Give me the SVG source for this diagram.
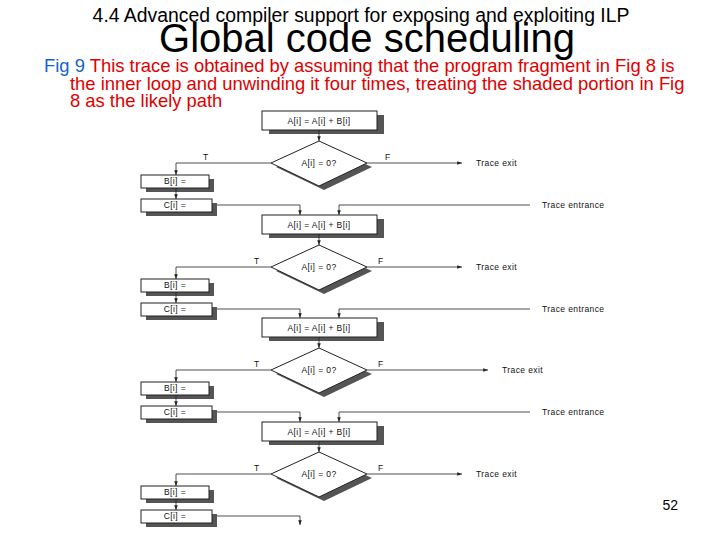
<svg xmlns="http://www.w3.org/2000/svg" width="720" height="540" viewBox="0 0 720 540">
<style>
.t{font-family:"Liberation Sans",Arial,sans-serif}
.box{fill:#fff;stroke:#222;stroke-width:1}
.sh{fill:#555}
.ln{fill:none;stroke:#222;stroke-width:0.8}
.s{font-family:"Liberation Sans",Arial,sans-serif;font-size:8.5px;fill:#111;letter-spacing:0.4px}
</style>
<defs>
<marker id="ar" viewBox="0 0 8 8" refX="8" refY="4" markerWidth="6" markerHeight="6" orient="auto"><path d="M0,1 L8,4 L0,7z" fill="#222"/></marker>
</defs>
<rect width="720" height="540" fill="#fff"/>
<text class="t" x="361" y="22" font-size="19.4" text-anchor="middle">4.4 Advanced compiler support for exposing and exploiting ILP</text>
<text class="t" x="367" y="52" font-size="40" text-anchor="middle">Global code scheduling</text>
<text class="t" font-size="18.4" fill="#e00000"><tspan x="44" y="72"><tspan fill="#1a5fd0">Fig 9</tspan> This trace is obtained by assuming that the program fragment in Fig 8 is</tspan><tspan x="70" y="90">the inner loop and unwinding it four times, treating the shaded portion in Fig</tspan><tspan x="70" y="107">8 as the likely path</tspan></text>
<text class="t" x="678" y="510" font-size="14" text-anchor="end">52</text>

<g id="nodes">
<g id="b1" transform="translate(0,0)">
<g id="a1"><rect class="sh" x="269" y="115" width="115" height="19"/><rect class="box" x="262" y="111" width="115" height="19"/><text class="s" x="319" y="124" text-anchor="middle">A[i] = A[i] + B[i]</text></g>
<g id="d1"><polygon class="sh" points="276,167 324,145 372,167 324,190"/><polygon class="box" points="271,163 319,141 367,163 319,186"/><text class="s" x="319" y="166" text-anchor="middle">A[i] = 0?</text></g>
<g id="bb1"><rect class="sh" x="146" y="179" width="68" height="13"/><rect class="box" x="141" y="175" width="68" height="13"/><text class="s" x="175" y="184" text-anchor="middle">B[i] =</text></g>
<g id="c1"><rect class="sh" x="146" y="203" width="71" height="13"/><rect class="box" x="141" y="199" width="71" height="13"/><text class="s" x="175" y="208" text-anchor="middle">C[i] =</text></g>
</g>
<g id="b2" transform="translate(0,104)">
<g id="a2"><rect class="sh" x="269" y="115" width="115" height="19"/><rect class="box" x="262" y="111" width="115" height="19"/><text class="s" x="319" y="124" text-anchor="middle">A[i] = A[i] + B[i]</text></g>
<g id="d2"><polygon class="sh" points="276,167 324,145 372,167 324,190"/><polygon class="box" points="271,163 319,141 367,163 319,186"/><text class="s" x="319" y="166" text-anchor="middle">A[i] = 0?</text></g>
<g id="bb2"><rect class="sh" x="146" y="179" width="68" height="13"/><rect class="box" x="141" y="175" width="68" height="13"/><text class="s" x="175" y="184" text-anchor="middle">B[i] =</text></g>
<g id="c2"><rect class="sh" x="146" y="203" width="71" height="13"/><rect class="box" x="141" y="199" width="71" height="13"/><text class="s" x="175" y="208" text-anchor="middle">C[i] =</text></g>
</g>
<g id="b3" transform="translate(0,207)">
<g id="a3"><rect class="sh" x="269" y="115" width="115" height="19"/><rect class="box" x="262" y="111" width="115" height="19"/><text class="s" x="319" y="124" text-anchor="middle">A[i] = A[i] + B[i]</text></g>
<g id="d3"><polygon class="sh" points="276,167 324,145 372,167 324,190"/><polygon class="box" points="271,163 319,141 367,163 319,186"/><text class="s" x="319" y="166" text-anchor="middle">A[i] = 0?</text></g>
<g id="bb3"><rect class="sh" x="146" y="179" width="68" height="13"/><rect class="box" x="141" y="175" width="68" height="13"/><text class="s" x="175" y="184" text-anchor="middle">B[i] =</text></g>
<g id="c3"><rect class="sh" x="146" y="203" width="71" height="13"/><rect class="box" x="141" y="199" width="71" height="13"/><text class="s" x="175" y="208" text-anchor="middle">C[i] =</text></g>
</g>
<g id="b4" transform="translate(0,311)">
<g id="a4"><rect class="sh" x="269" y="115" width="115" height="19"/><rect class="box" x="262" y="111" width="115" height="19"/><text class="s" x="319" y="124" text-anchor="middle">A[i] = A[i] + B[i]</text></g>
<g id="d4"><polygon class="sh" points="276,167 324,145 372,167 324,190"/><polygon class="box" points="271,163 319,141 367,163 319,186"/><text class="s" x="319" y="166" text-anchor="middle">A[i] = 0?</text></g>
<g id="bb4"><rect class="sh" x="146" y="179" width="68" height="13"/><rect class="box" x="141" y="175" width="68" height="13"/><text class="s" x="175" y="184" text-anchor="middle">B[i] =</text></g>
<g id="c4"><rect class="sh" x="146" y="203" width="71" height="13"/><rect class="box" x="141" y="199" width="71" height="13"/><text class="s" x="175" y="208" text-anchor="middle">C[i] =</text></g>
</g>
</g>

<g id="connectors">
<g transform="translate(0,0)">
<path class="ln" d="M319,130 V141" marker-end="url(#ar)"/>
<path class="ln" d="M271,163 H176 V175" marker-end="url(#ar)"/>
<path class="ln" d="M176,188 V199" marker-end="url(#ar)"/>
<path class="ln" d="M367,163 H462" marker-end="url(#ar)"/>
<path class="ln" d="M217,205 H300 V215" marker-end="url(#ar)"/>
<path class="ln" d="M530,205 H339 V215" marker-end="url(#ar)"/>
<text class="s" x="203" y="160">T</text><text class="s" x="385" y="160">F</text>
<text class="s" x="476" y="166">Trace exit</text><text class="s" x="542" y="208">Trace entrance</text>
</g>
<g transform="translate(0,104)">
<path class="ln" d="M319,130 V141" marker-end="url(#ar)"/>
<path class="ln" d="M271,163 H176 V175" marker-end="url(#ar)"/>
<path class="ln" d="M176,188 V199" marker-end="url(#ar)"/>
<path class="ln" d="M367,163 H462" marker-end="url(#ar)"/>
<path class="ln" d="M217,205 H300 V214" marker-end="url(#ar)"/>
<path class="ln" d="M530,205 H339 V214" marker-end="url(#ar)"/>
<text class="s" x="254" y="160">T</text><text class="s" x="378" y="160">F</text>
<text class="s" x="476" y="166">Trace exit</text><text class="s" x="542" y="208">Trace entrance</text>
</g>
<g transform="translate(0,207)">
<path class="ln" d="M319,130 V141" marker-end="url(#ar)"/>
<path class="ln" d="M271,163 H176 V175" marker-end="url(#ar)"/>
<path class="ln" d="M176,188 V199" marker-end="url(#ar)"/>
<path class="ln" d="M367,163 H488" marker-end="url(#ar)"/>
<path class="ln" d="M217,205 H300 V215" marker-end="url(#ar)"/>
<path class="ln" d="M530,205 H339 V215" marker-end="url(#ar)"/>
<text class="s" x="254" y="160">T</text><text class="s" x="378" y="160">F</text>
<text class="s" x="502" y="166">Trace exit</text><text class="s" x="542" y="208">Trace entrance</text>
</g>
<g transform="translate(0,311)">
<path class="ln" d="M319,130 V141" marker-end="url(#ar)"/>
<path class="ln" d="M271,163 H176 V175" marker-end="url(#ar)"/>
<path class="ln" d="M176,188 V199" marker-end="url(#ar)"/>
<path class="ln" d="M367,163 H462" marker-end="url(#ar)"/>
<path class="ln" d="M217,205 H300 V214" marker-end="url(#ar)"/>
<text class="s" x="254" y="160">T</text><text class="s" x="378" y="160">F</text>
<text class="s" x="476" y="166">Trace exit</text>
</g>
</g>
</svg>
